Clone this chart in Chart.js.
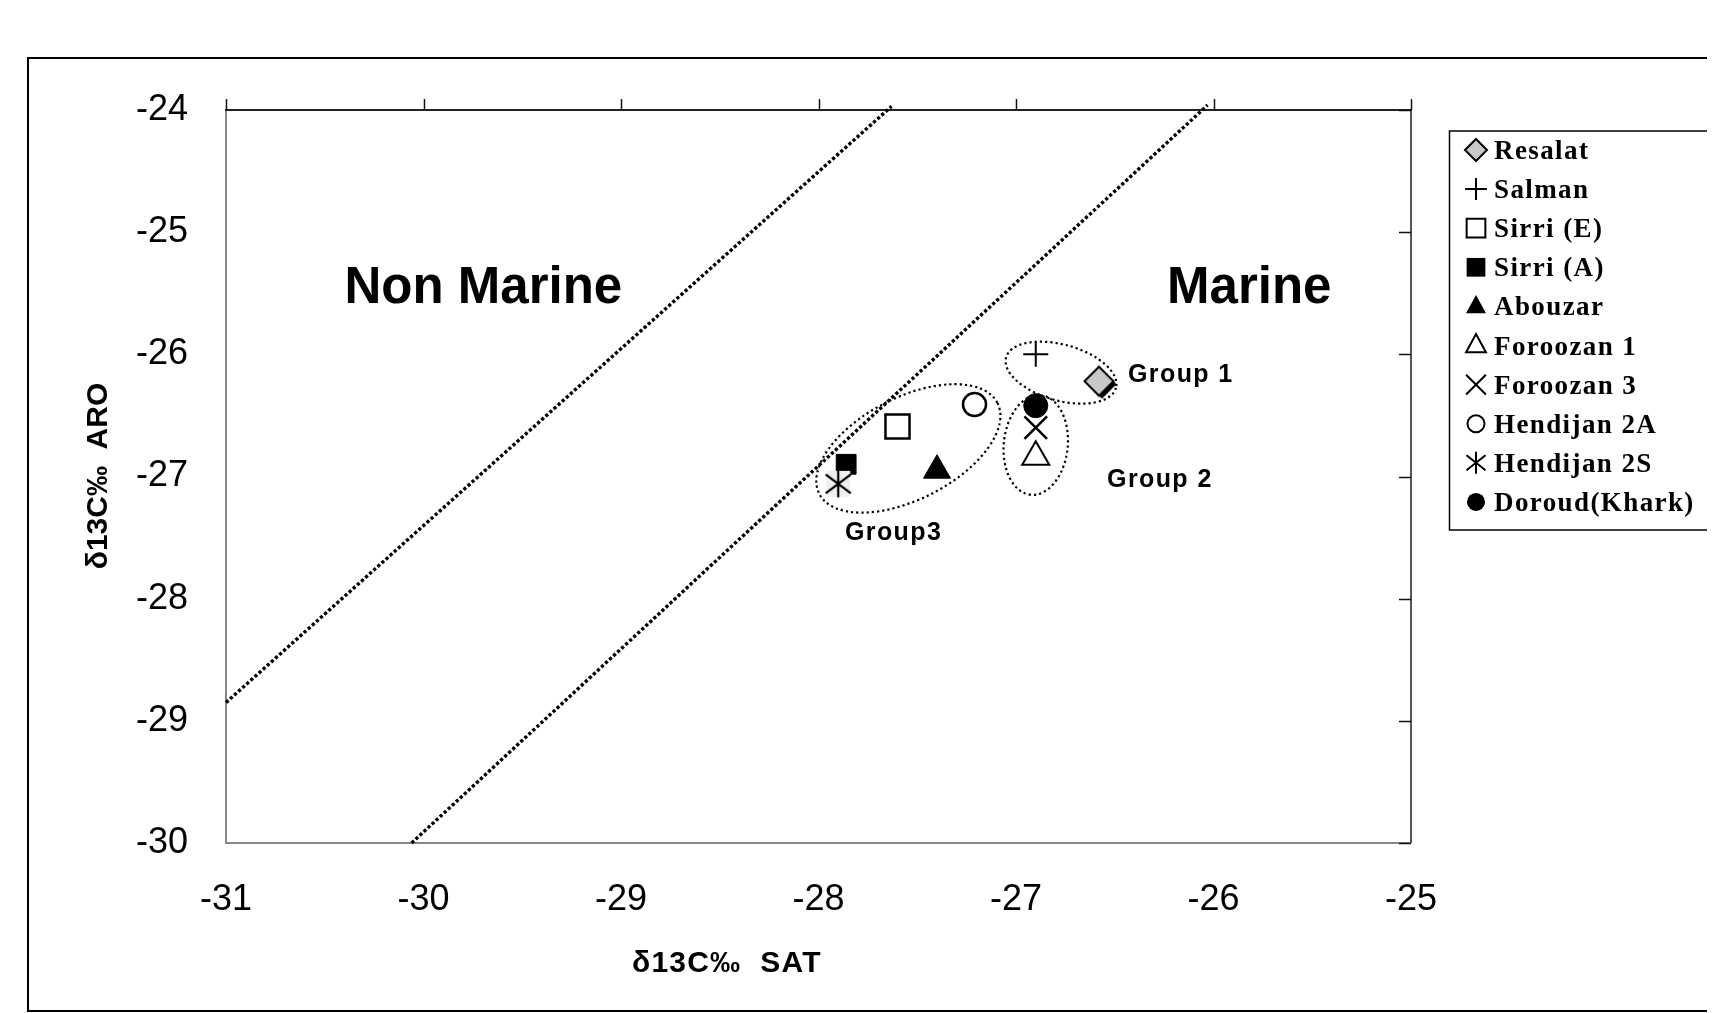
<!DOCTYPE html>
<html>
<head>
<meta charset="utf-8">
<script src="https://cdn.jsdelivr.net/npm/chart.js@4.4.1/dist/chart.umd.min.js"></script>
<style>
html,body{margin:0;padding:0;background:#fff;}
#wrap{width:1734px;height:1013px;position:relative;}
</style>
</head>
<body>
<div id="wrap"><canvas id="c" width="1734" height="1013"></canvas></div>
<script>
// ---------------- DATA ----------------
const seriesNames = ['Resalat','Salman','Sirri (E)','Sirri (A)','Abouzar','Foroozan 1','Foroozan 3','Hendijan 2A','Hendijan 2S','Doroud(Khark)'];
const satValues = [-26.58, -26.90, -27.60, -27.86, -27.40, -26.90, -26.90, -27.21, -27.90, -26.90];
const aroValues = [-26.22, -26.00, -26.59, -26.90, -26.95, -26.84, -26.60, -26.41, -27.06, -26.42];
const xTickValues = [-31, -30, -29, -28, -27, -26, -25];
const yTickValues = [-30, -29, -28, -27, -26, -25, -24];
const boundaryLeftSat = [-31.00, -27.63];
const boundaryLeftAro = [-28.85, -23.97];
const boundaryRightSat = [-30.06, -26.03];
const boundaryRightAro = [-30.00, -23.96];
const xAxisTitle = 'δ13C‰  SAT';
const yAxisTitle = 'δ13C‰  ARO';
const regionLabels = ['Non Marine', 'Marine'];
const groupLabels = ['Group 1', 'Group 2', 'Group3'];

// ---------------- STYLES / ANNOTATION PLACEMENT ----------------
const SANS = '"Liberation Sans", Arial, sans-serif';
const SERIF = '"Liberation Serif", "Times New Roman", serif';
const regionLabelPos = [{x: -30.40, y: -25.58}, {x: -26.235, y: -25.58}];
const groupLabelPos = [{x: -26.433, y: -26.226}, {x: -26.539, y: -27.086}, {x: -27.866, y: -27.52}];
const groupEllipses = [
  {cx: -26.772, cy: -26.150, a: 57, b: 28, angle: 15.5},
  {cx: -26.900, cy: -26.742, a: 50, b: 32, angle: 95.8},
  {cx: -27.545, cy: -26.770, a: 100, b: 51, angle: -27}
];

function makeCanvas(w, h, fn) {
  const c = document.createElement('canvas');
  c.width = w; c.height = h;
  fn(c.getContext('2d'), w, h);
  return c;
}
function diamondPath(ctx, x, y, r) {
  ctx.beginPath();
  ctx.moveTo(x - r, y); ctx.lineTo(x, y - r); ctx.lineTo(x + r, y); ctx.lineTo(x, y + r);
  ctx.closePath();
}
const diamondChart = makeCanvas(40, 40, (ctx) => {
  diamondPath(ctx, 23, 23, 14.5); ctx.fillStyle = '#000'; ctx.fill();
  diamondPath(ctx, 20, 20, 14.5); ctx.fillStyle = '#c8c8c8'; ctx.fill();
  ctx.lineWidth = 2; ctx.strokeStyle = '#000'; ctx.stroke();
});
function asteriskDraw(ctx, cx, cy, hw, hh, lw) {
  ctx.beginPath();
  ctx.moveTo(cx, cy - hh - 1); ctx.lineTo(cx, cy + hh + 1);
  ctx.moveTo(cx - hw, cy - hh * 0.75); ctx.lineTo(cx + hw, cy + hh * 0.75);
  ctx.moveTo(cx + hw, cy - hh * 0.75); ctx.lineTo(cx - hw, cy + hh * 0.75);
  ctx.lineWidth = lw; ctx.strokeStyle = '#000'; ctx.stroke();
}
const asteriskChart = makeCanvas(32, 32, (ctx) => {
  ctx.fillStyle = '#efefef'; ctx.fillRect(4, 3, 24, 26);
  asteriskDraw(ctx, 16, 16, 12.5, 12.5, 2.2);
});

const markerStyles = [
  {pointStyle: diamondChart, radius: 15, bg: '#c8c8c8', border: '#000', bw: 2, legend: 'diamond', lr: 11},
  {pointStyle: 'cross', radius: 12.5, bg: '#000', border: '#000', bw: 2, legend: 'cross', lr: 11},
  {pointStyle: 'rect', radius: 17, bg: '#fff', border: '#000', bw: 2.5, legend: 'rect', lr: 13},
  {pointStyle: 'rect', radius: 14, bg: '#000', border: '#000', bw: 1, legend: 'rectFilled', lr: 13},
  {pointStyle: 'triangle', radius: 15.6, bg: '#000', border: '#000', bw: 1, legend: 'triFilled', lr: 11.5},
  {pointStyle: 'triangle', radius: 15.6, bg: '#fff', border: '#000', bw: 2, legend: 'tri', lr: 11.5},
  {pointStyle: 'crossRot', radius: 16, bg: '#000', border: '#000', bw: 2.5, legend: 'x', lr: 14},
  {pointStyle: 'circle', radius: 11.5, bg: '#fff', border: '#000', bw: 2.5, legend: 'circle', lr: 8.5},
  {pointStyle: asteriskChart, radius: 14, bg: '#000', border: '#000', bw: 2, legend: 'asterisk', lr: 10},
  {pointStyle: 'circle', radius: 12, bg: '#000', border: '#000', bw: 1, legend: 'circleFilled', lr: 9}
];

// ---------------- DATASETS ----------------
const datasets = [];
seriesNames.forEach((name, i) => {
  const s = markerStyles[i];
  datasets.push({
    label: name,
    data: [{x: satValues[i], y: aroValues[i]}],
    pointStyle: s.pointStyle,
    pointRadius: s.radius,
    pointHoverRadius: s.radius,
    backgroundColor: s.bg,
    borderColor: s.border,
    borderWidth: s.bw,
    showLine: false,
    order: -i,
    clip: false,
    isSeries: true
  });
});
[[boundaryLeftSat, boundaryLeftAro], [boundaryRightSat, boundaryRightAro]].forEach(([xs, ys], k) => {
  datasets.push({
    label: 'boundary' + k,
    data: xs.map((v, j) => ({x: v, y: ys[j]})),
    showLine: true,
    pointRadius: 0,
    borderColor: '#000',
    borderWidth: 3.4,
    borderDash: [3.2, 2.3],
    order: 100,
    clip: false,
    isSeries: false
  });
});

// ---------------- PLUGINS ----------------
const backgroundPlugin = {
  id: 'bg',
  beforeDraw(chart) {
    const ctx = chart.ctx;
    ctx.save(); ctx.fillStyle = '#fff'; ctx.fillRect(0, 0, chart.width, chart.height); ctx.restore();
  }
};

const framePlugin = {
  id: 'frame',
  beforeDatasetsDraw(chart) {
    const ctx = chart.ctx, a = chart.chartArea;
    const xs = chart.scales.x, ys = chart.scales.y;
    ctx.save();
    // outer frame (right side cropped in original)
    ctx.strokeStyle = '#000'; ctx.lineWidth = 2;
    ctx.beginPath();
    ctx.moveTo(1707, 58); ctx.lineTo(28, 58); ctx.lineTo(28, 1011); ctx.lineTo(1707, 1011);
    ctx.stroke();
    // axis borders
    ctx.lineWidth = 2;
    ctx.strokeStyle = '#888';
    ctx.beginPath(); ctx.moveTo(a.left, a.top); ctx.lineTo(a.left, a.bottom); ctx.lineTo(a.right, a.bottom); ctx.stroke();
    ctx.strokeStyle = '#555';
    ctx.beginPath(); ctx.moveTo(a.right, a.bottom); ctx.lineTo(a.right, a.top); ctx.stroke();
    ctx.strokeStyle = '#222'; ctx.lineWidth = 2.2;
    ctx.beginPath(); ctx.moveTo(a.left - 1, a.top); ctx.lineTo(a.right + 1, a.top); ctx.stroke();
    // tick marks: top (outward), right (inward)
    ctx.strokeStyle = '#111'; ctx.lineWidth = 1.5;
    xs.ticks.forEach(t => {
      const px = Math.round(xs.getPixelForValue(t.value)) + 0.5;
      ctx.beginPath(); ctx.moveTo(px, a.top); ctx.lineTo(px, a.top - 11); ctx.stroke();
    });
    ys.ticks.forEach(t => {
      const py = Math.round(ys.getPixelForValue(t.value)) + 0.5;
      ctx.beginPath(); ctx.moveTo(a.right, py); ctx.lineTo(a.right - 12, py); ctx.stroke();
    });
    // group ellipses
    ctx.strokeStyle = '#000'; ctx.lineWidth = 2.2; ctx.setLineDash([2.2, 3]);
    groupEllipses.forEach(e => {
      ctx.beginPath();
      ctx.ellipse(xs.getPixelForValue(e.cx), ys.getPixelForValue(e.cy), e.a, e.b, e.angle * Math.PI / 180, 0, Math.PI * 2);
      ctx.stroke();
    });
    ctx.setLineDash([]);
    // texts
    ctx.fillStyle = '#000'; ctx.textBaseline = 'alphabetic'; ctx.textAlign = 'left';
    ctx.font = 'bold 51px ' + SANS;
    regionLabels.forEach((t, i) => ctx.fillText(t, xs.getPixelForValue(regionLabelPos[i].x), ys.getPixelForValue(regionLabelPos[i].y)));
    ctx.font = 'bold 25px ' + SANS;
    if ('letterSpacing' in ctx) ctx.letterSpacing = '1.4px';
    groupLabels.forEach((t, i) => ctx.fillText(t, xs.getPixelForValue(groupLabelPos[i].x), ys.getPixelForValue(groupLabelPos[i].y)));
    // axis titles
    ctx.font = 'bold 30px ' + SANS;
    if ('letterSpacing' in ctx) ctx.letterSpacing = '1.2px';
    ctx.textAlign = 'left';
    ctx.fillText(xAxisTitle, 632, 972);
    if ('letterSpacing' in ctx) ctx.letterSpacing = '0px';
    ctx.save();
    ctx.translate(107, 476); ctx.rotate(-Math.PI / 2);
    ctx.textAlign = 'center';
    ctx.fillText(yAxisTitle, 0, 0);
    ctx.restore();
    ctx.restore();
  }
};

function drawLegendMarker(ctx, kind, x, y, r) {
  ctx.save();
  ctx.strokeStyle = '#000'; ctx.fillStyle = '#000'; ctx.lineWidth = 2;
  switch (kind) {
    case 'diamond':
      diamondPath(ctx, x, y, r); ctx.fillStyle = '#c8c8c8'; ctx.fill(); ctx.stroke(); break;
    case 'cross':
      ctx.beginPath(); ctx.moveTo(x - r, y); ctx.lineTo(x + r, y); ctx.moveTo(x, y - r); ctx.lineTo(x, y + r); ctx.stroke(); break;
    case 'rect': {
      const h = r * 0.72; ctx.beginPath(); ctx.rect(x - h, y - h, 2 * h, 2 * h); ctx.fillStyle = '#fff'; ctx.fill(); ctx.stroke(); break;
    }
    case 'rectFilled': {
      const h = r * 0.72; ctx.fillRect(x - h, y - h, 2 * h, 2 * h); break;
    }
    case 'tri':
    case 'triFilled': {
      ctx.beginPath(); ctx.moveTo(x, y - r); ctx.lineTo(x + r * 0.866, y + r * 0.5 + 1); ctx.lineTo(x - r * 0.866, y + r * 0.5 + 1); ctx.closePath();
      if (kind === 'tri') { ctx.fillStyle = '#fff'; ctx.fill(); ctx.stroke(); } else { ctx.fill(); }
      break;
    }
    case 'x': {
      const h = r * 0.707; ctx.beginPath(); ctx.moveTo(x - h, y - h); ctx.lineTo(x + h, y + h); ctx.moveTo(x + h, y - h); ctx.lineTo(x - h, y + h); ctx.stroke(); break;
    }
    case 'circle':
      ctx.beginPath(); ctx.arc(x, y, r, 0, Math.PI * 2); ctx.fillStyle = '#fff'; ctx.fill(); ctx.stroke(); break;
    case 'circleFilled':
      ctx.beginPath(); ctx.arc(x, y, r, 0, Math.PI * 2); ctx.fill(); break;
    case 'asterisk':
      asteriskDraw(ctx, x, y, r * 0.95, r, 2); break;
  }
  ctx.restore();
}

const legendPlugin = {
  id: 'customLegend',
  afterDraw(chart) {
    const ctx = chart.ctx;
    ctx.save();
    // legend frame (right side cropped in original)
    ctx.strokeStyle = '#000'; ctx.lineWidth = 1.5;
    ctx.beginPath();
    ctx.moveTo(1707, 131); ctx.lineTo(1449.5, 131); ctx.lineTo(1449.5, 530); ctx.lineTo(1707, 530);
    ctx.stroke();
    const items = chart.data.datasets.filter(d => d.isSeries);
    ctx.font = 'bold 27px ' + SERIF;
    ctx.fillStyle = '#000'; ctx.textAlign = 'left'; ctx.textBaseline = 'alphabetic';
    if ('letterSpacing' in ctx) ctx.letterSpacing = '1.4px';
    items.forEach((d, i) => {
      const cy = 150 + i * 39.1;
      const s = markerStyles[seriesNames.indexOf(d.label)];
      drawLegendMarker(ctx, s.legend, 1476, cy, s.lr);
      ctx.fillText(d.label, 1494, cy + 9);
    });
    ctx.restore();
  }
};

// ---------------- CHART ----------------
new Chart(document.getElementById('c'), {
  type: 'scatter',
  data: {datasets},
  options: {
    responsive: false,
    animation: false,
    devicePixelRatio: 1,
    events: [],
    layout: {padding: {top: 110, right: 323, left: 0, bottom: 0}},
    plugins: {legend: {display: false}, tooltip: {enabled: false}, title: {display: false}},
    scales: {
      x: {
        type: 'linear', min: -31, max: -25,
        afterBuildTicks: s => { s.ticks = xTickValues.map(v => ({value: v})); },
        ticks: {font: {family: SANS, size: 36}, color: '#000', padding: 35, maxRotation: 0},
        grid: {display: false, drawTicks: false},
        border: {display: false},
        afterFit: s => { s.height = 170; }
      },
      y: {
        type: 'linear', min: -30, max: -24,
        afterBuildTicks: s => { s.ticks = yTickValues.map(v => ({value: v})); },
        ticks: {font: {family: SANS, size: 36}, color: '#000', padding: 38},
        grid: {display: false, drawTicks: false},
        border: {display: false},
        afterFit: s => { s.width = 226; }
      }
    }
  },
  plugins: [backgroundPlugin, framePlugin, legendPlugin]
});
</script>
</body>
</html>
